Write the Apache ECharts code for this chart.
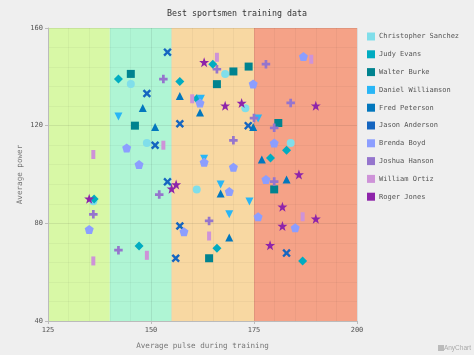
<!DOCTYPE html>
<html>
<head>
<meta charset="utf-8">
<script src="https://cdn.jsdelivr.net/npm/echarts@6/dist/echarts.min.js"></script>
<style>
html,body{margin:0;padding:0;background:#efefef;}
#c{width:474px;height:355px;}
</style>
</head>
<body>
<div id="c"></div>
<script>
// ---- data ----
const seriesNames = ["Christopher Sanchez","Judy Evans","Walter Burke","Daniel Williamson","Fred Peterson","Jason Anderson","Brenda Boyd","Joshua Hanson","William Ortiz","Roger Jones"];
const christopherSanchez = [[145.1,137.1],[168,141.2],[172.9,127.1],[183.9,112.9],[149,112.9],[136,89],[161.1,93.9]];
const judyEvans = [[142.1,139.1],[165,145.2],[157,138.1],[161.1,131],[182.9,109.9],[179,106.8],[186.8,64.6],[136.2,90],[147.1,70.7],[166,69.8]];
const walterBurke = [[145.1,141.2],[146.1,120],[170,142.2],[173.7,144.2],[166,137],[180.9,121.1],[179.9,93.9],[164.1,65.7]];
const danielWilliamson = [[142.1,123.8],[162.1,131],[176,122.9],[173.9,88.9],[162.9,106.5],[166.9,95.9],[169,83.7]];
const fredPeterson = [[148,127.2],[157,132.2],[161.9,125.4],[151,119.5],[174.8,119.5],[176.9,106.1],[182.9,98],[166.9,92.2],[169,74.2]];
const jasonAnderson = [[149,133.2],[154,150.1],[157,120.8],[173.6,120],[182.9,67.8],[151,112],[154,97],[157,78.9],[156,65.7]];
const brendaBoyd = [[161.9,129.3],[187,148.3],[174.8,137.1],[179.9,112.9],[177.9,98],[176,82.7],[185,78.2],[144.1,110.9],[147.1,104.1],[135,77.5],[162.9,105],[170,103],[169,93],[158,76.6]];
const joshuaHanson = [[166,143.1],[153,139.1],[177.9,145.2],[183.9,129.3],[175,123.1],[179.9,119.1],[179.9,97.1],[136,83.7],[142.1,69],[170,114],[152,91.8],[164.1,81]];
const williamOrtiz = [[166,148],[160,131],[188.9,147.2],[186.8,82.7],[136,108.2],[149,66.9],[136,64.6],[153,112],[164.1,74.8]];
const rogerJones = [[162.9,146],[168,128.2],[172,129.3],[190,128.2],[185.9,100],[181.9,86.8],[190,81.9],[181.9,78.9],[178.9,71],[135,90.1],[155,94.2],[156.1,95.9]];
const allSeriesData = [christopherSanchez, judyEvans, walterBurke, danielWilliamson, fredPeterson, jasonAnderson, brendaBoyd, joshuaHanson, williamOrtiz, rogerJones];
const pulseBands = [[125,140],[140,155],[155,175],[175,200]];
const xTicks = [125,150,175,200];
const yTicks = [40,80,120,160];

// ---- styles ----
const colors = ["#80deea","#00acc1","#00838f","#29b6f6","#0277bd","#1565c0","#8c9eff","#9575cd","#ce93d8","#8e24aa"];
const bandColors = ["#d8f8a6","#aff5d4","#f8d8a2","#f5a287"];
const P = {
  cross: 'path://M2,0 L5,3 L8,0 L10,2 L7,5 L10,8 L8,10 L5,7 L2,10 L0,8 L3,5 L0,2 Z',
  plus: 'path://M3.4,0 H6.6 V3.4 H10 V6.6 H6.6 V10 H3.4 V6.6 H0 V3.4 H3.4 Z',
  star: 'path://M5,0 L6.18,3.38 L9.76,3.45 L6.9,5.62 L7.94,9.05 L5,7 L2.06,9.05 L3.1,5.62 L0.24,3.45 L3.82,3.38 Z',
  pent: 'path://M5,0 L9.76,3.45 L7.94,9.05 L2.06,9.05 L0.24,3.45 Z'
};
const symbols = [
  {s:'circle', size:8},
  {s:'diamond', size:9},
  {s:'rect', size:8},
  {s:'triangle', size:8, rot:180},
  {s:'triangle', size:8},
  {s:P.cross, size:8.5},
  {s:P.pent, size:9},
  {s:P.plus, size:8.5},
  {s:'rect', size:[4,9]},
  {s:P.star, size:10}
];
const mono = 'DejaVu Sans Mono';

const series = [{
  type:'scatter', name:'bands', data:[], z:1, silent:true,
  markArea:{
    silent:true,
    itemStyle:{opacity:1},
    data: pulseBands.map((b,i)=>[{xAxis:b[0], yAxis:yTicks[0], itemStyle:{color:bandColors[i]}},{xAxis:b[1], yAxis:yTicks[yTicks.length-1]}])
  }
}];
seriesNames.forEach((n,i)=>{
  series.push({
    type:'scatter', name:n, data:allSeriesData[i], z:5,
    symbol:symbols[i].s, symbolSize:symbols[i].size, symbolRotate:symbols[i].rot||0,
    itemStyle:{color:colors[i], opacity:1}
  });
});

const chart = echarts.init(document.getElementById('c'), null, {renderer:'canvas'});
chart.setOption({
  backgroundColor:'#efefef',
  animation:false,
  color:colors,
  title:{text:'Best sportsmen training data', left:'center', top:5,
    textStyle:{fontFamily:mono, fontSize:8.3, fontWeight:'normal', color:'#333'}},
  legend:{
    data:seriesNames, orient:'vertical', left:362, top:27.5,
    icon:'rect', itemWidth:8, itemHeight:8, itemGap:9.8,
    textStyle:{fontFamily:mono, fontSize:7, color:'#555', padding:[0,0,0,-1]}
  },
  grid:{left:48, right:117, top:28, bottom:33, containLabel:false},
  xAxis:{
    type:'value', min:xTicks[0], max:xTicks[xTicks.length-1], interval:25, z:3,
    name:'Average pulse during training', nameLocation:'middle', nameGap:21,
    nameMoveOverlap:false,
    nameTextStyle:{fontFamily:mono, fontSize:7.6, color:'#777'},
    axisLine:{show:true, lineStyle:{color:'#bbb'}},
    axisTick:{show:true, length:3, lineStyle:{color:'#bbb'}},
    axisLabel:{fontFamily:mono, fontSize:7, color:'#555', margin:6},
    splitLine:{show:true, lineStyle:{color:'rgba(0,0,0,0.08)'}},
    minorTick:{show:false, splitNumber:5},
    minorSplitLine:{show:true, lineStyle:{color:'rgba(0,0,0,0.035)'}}
  },
  yAxis:{
    type:'value', min:yTicks[0], max:yTicks[yTicks.length-1], interval:40, z:3,
    name:'Average power', nameLocation:'middle', nameGap:24,
    nameMoveOverlap:false,
    nameTextStyle:{fontFamily:mono, fontSize:7.6, color:'#777'},
    axisLine:{show:true, lineStyle:{color:'#bbb'}},
    axisTick:{show:true, length:3, lineStyle:{color:'#bbb'}},
    axisLabel:{fontFamily:mono, fontSize:7, color:'#555', margin:5},
    splitLine:{show:true, lineStyle:{color:'rgba(0,0,0,0.08)'}},
    minorTick:{show:false, splitNumber:5},
    minorSplitLine:{show:true, lineStyle:{color:'rgba(0,0,0,0.035)'}}
  },
  graphic:[
    {type:'rect', right:30, bottom:4, shape:{width:6, height:6}, style:{fill:'#bbb'}},
    {type:'text', right:3, bottom:3, style:{text:'AnyChart', fontFamily:'Liberation Sans', fontSize:6.5, fill:'#aaa'}}
  ],
  series:series
});
</script>
</body>
</html>
